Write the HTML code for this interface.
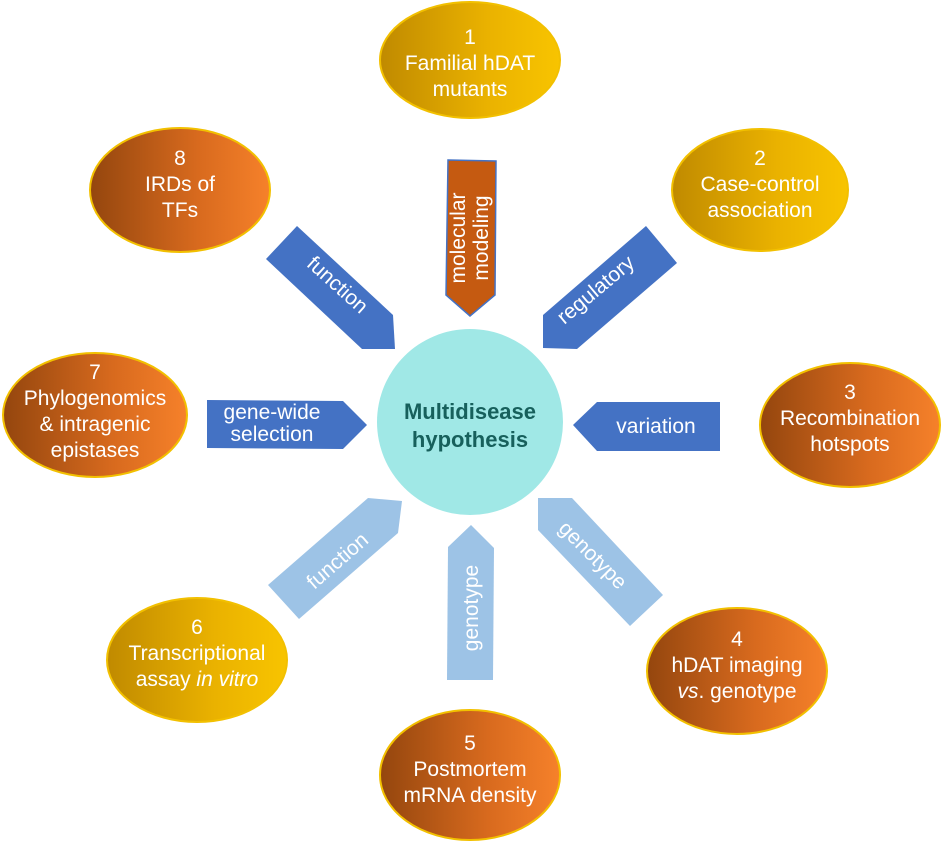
<!DOCTYPE html>
<html><head><meta charset="utf-8"><style>
html,body{margin:0;padding:0;background:#fff;}
svg{display:block;font-family:"Liberation Sans",Arial,sans-serif;}
</style></head><body>
<svg width="945" height="843" viewBox="0 0 945 843" xmlns="http://www.w3.org/2000/svg">
<defs>
<linearGradient id="y" x1="0" y1="0" x2="1" y2="0"><stop offset="0" stop-color="#c08a00"/><stop offset="0.6" stop-color="#eab200"/><stop offset="1" stop-color="#f8c400"/></linearGradient>
<linearGradient id="o" x1="0" y1="0" x2="1" y2="0"><stop offset="0" stop-color="#94460e"/><stop offset="0.6" stop-color="#d86a1e"/><stop offset="1" stop-color="#f6812a"/></linearGradient>
</defs>
<g stroke="#f2c000" stroke-width="2">
<ellipse cx="470" cy="60" rx="90" ry="58" fill="url(#y)"/>
<ellipse cx="760" cy="190" rx="88" ry="61" fill="url(#y)"/>
<ellipse cx="850" cy="425" rx="90" ry="62" fill="url(#o)"/>
<ellipse cx="737" cy="671" rx="90" ry="63" fill="url(#o)"/>
<ellipse cx="470" cy="775" rx="90" ry="65" fill="url(#o)"/>
<ellipse cx="197" cy="660" rx="90" ry="62" fill="url(#y)"/>
<ellipse cx="95" cy="415" rx="92" ry="62" fill="url(#o)"/>
<ellipse cx="180" cy="190" rx="90" ry="62" fill="url(#o)"/>
</g>
<circle cx="470" cy="422" r="93" fill="#a0e8e6"/>
<!-- dark arrows -->
<g fill="#4472c4">
<polygon points="266,259 297,226 393,315 395,349 362,349"/>
<polygon points="646,226 677,263 577,349 543,348 543,315"/>
<polygon points="207,400 343,401 367,425 343,449 207,448"/>
<polygon points="720,402 597,402 573,425 597,451 720,451"/>
</g>
<polygon points="448,160 496,161 495,295 470,316 446,295" fill="#c55a11" stroke="#4472c4" stroke-width="1.5"/>
<g fill="#9dc3e6">
<polygon points="368,498 402,501 398,533 299,619 268,585"/>
<polygon points="471,525 494,548 493,680 447,680 448,547"/>
<polygon points="538,498 572,498 663,595 630,626 538,530"/>
</g>
<g fill="#fff" font-size="21" text-anchor="middle">
<text transform="translate(333,290) rotate(42)">function</text>
<text transform="translate(600,295) rotate(-40)" >regulatory</text>
<text transform="translate(465,238) rotate(-90)">molecular</text>
<text transform="translate(488,238) rotate(-90)">modeling</text>
<text x="272" y="419">gene-wide</text>
<text x="272" y="441">selection</text>
<text x="656" y="433">variation</text>
<text transform="translate(342,566) rotate(-41)">function</text>
<text transform="translate(478,608) rotate(-90)">genotype</text>
<text transform="translate(588,560) rotate(45)">genotype</text>
</g>
<g fill="#fff" font-size="21" text-anchor="middle">
<text x="470" y="44">1</text><text x="470" y="70">Familial hDAT</text><text x="470" y="96">mutants</text>
<text x="760" y="165">2</text><text x="760" y="191">Case-control</text><text x="760" y="217">association</text>
<text x="850" y="399">3</text><text x="850" y="425">Recombination</text><text x="850" y="451">hotspots</text>
<text x="737" y="646">4</text><text x="737" y="672">hDAT imaging</text><text x="737" y="698"><tspan font-style="italic">vs</tspan>. genotype</text>
<text x="470" y="750">5</text><text x="470" y="776">Postmortem</text><text x="470" y="802">mRNA density</text>
<text x="197" y="634">6</text><text x="197" y="660">Transcriptional</text><text x="197" y="686">assay <tspan font-style="italic">in vitro</tspan></text>
<text x="95" y="379">7</text><text x="95" y="405">Phylogenomics</text><text x="95" y="431">&amp; intragenic</text><text x="95" y="457">epistases</text>
<text x="180" y="165">8</text><text x="180" y="191">IRDs of</text><text x="180" y="217">TFs</text>
</g>
<g fill="#17605c" font-size="22" font-weight="bold" text-anchor="middle">
<text x="470" y="419">Multidisease</text><text x="470" y="447">hypothesis</text>
</g>
</svg>
</body></html>
